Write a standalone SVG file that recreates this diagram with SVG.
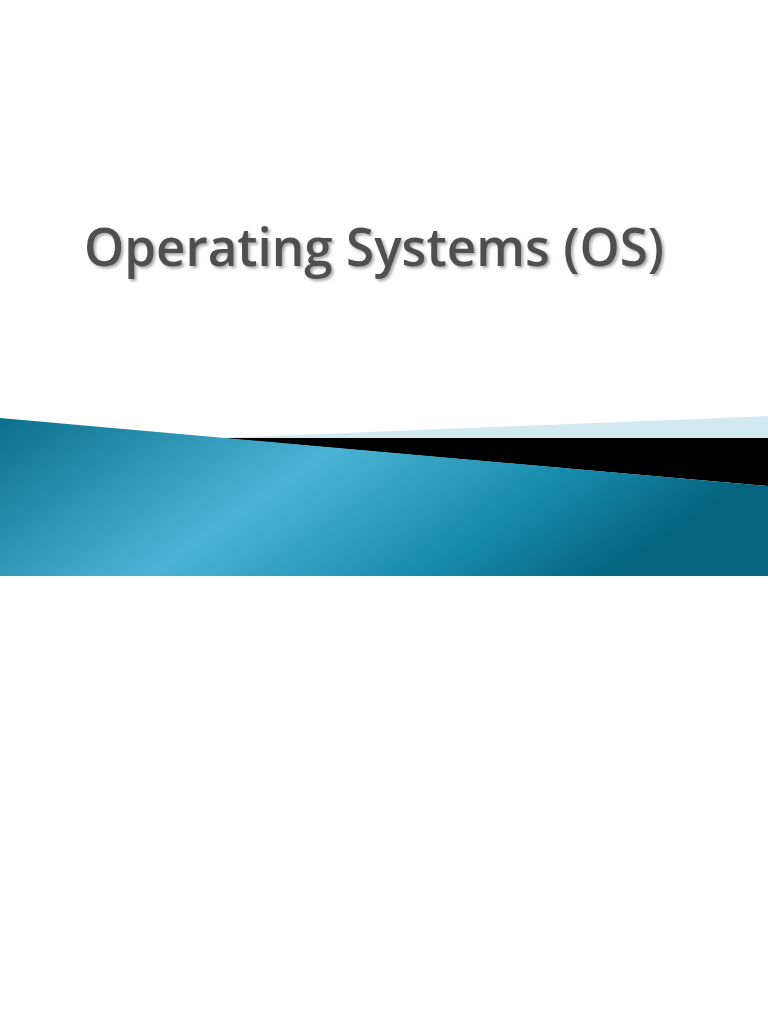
<svg xmlns="http://www.w3.org/2000/svg" width="768" height="1024" viewBox="0 0 768 1024">
<defs>
<linearGradient id="band" x1="0" y1="0" x2="1" y2="0.3">
<stop offset="0" stop-color="#0a6f8c"/>
<stop offset="0.45" stop-color="#4bb4d6"/>
<stop offset="0.78" stop-color="#168aab"/>
<stop offset="1" stop-color="#066480"/>
</linearGradient>
<filter id="sh" x="-5%" y="-20%" width="110%" height="140%">
<feDropShadow dx="2" dy="2" stdDeviation="1.5" flood-color="#000" flood-opacity="0.35"/>
</filter>
</defs>
<rect width="768" height="1024" fill="#fff"/>
<polygon points="220,438 768,416 768,438" fill="#d3e9f1"/>
<polygon points="220,438 768,438 768,486" fill="#000"/>
<polygon points="0,418 768,486 768,576 0,576" fill="url(#band)"/>
<text x="84" y="266" font-family="Open Sans, DejaVu Sans, sans-serif" font-size="53" font-weight="600" fill="#4f4f4f" filter="url(#sh)" textLength="580" lengthAdjust="spacingAndGlyphs">Operating Systems (OS)</text>
</svg>
